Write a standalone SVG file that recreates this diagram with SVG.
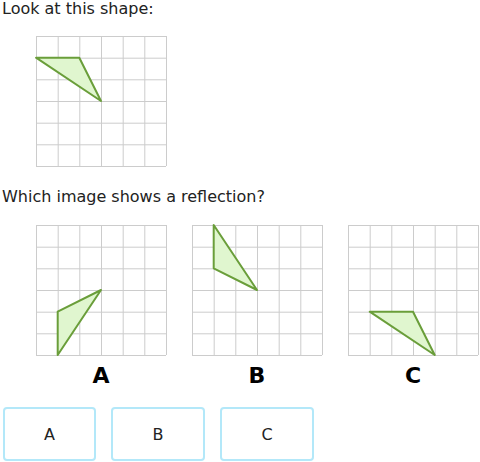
<svg xmlns="http://www.w3.org/2000/svg" width="480" height="462" viewBox="0 0 480 462">
<defs>
<style>
.t{font-family:"DejaVu Sans",Verdana,sans-serif;font-size:16px;fill:#222}
.g{stroke:#cccccc;stroke-width:1;fill:none}
.tri{fill:#e0f6cf;stroke:#6a9e3a;stroke-width:2;stroke-linejoin:round}
.lbl{font-family:"DejaVu Sans",Verdana,sans-serif;font-size:22px;font-weight:bold;fill:#000;text-anchor:middle}
.btn{fill:#fff;stroke:#b3e8f9;stroke-width:2}
.bt{font-family:"DejaVu Sans",Verdana,sans-serif;font-size:16px;fill:#222;text-anchor:middle}
</style>
<g id="grid">
<path class="g" d="M0.5,0V130M22.2,0V130M43.8,0V130M65.5,0V130M87.2,0V130M108.8,0V130M130.5,0V130M0,0.5H130M0,22.2H130M0,43.8H130M0,65.5H130M0,87.2H130M0,108.8H130M0,130.5H130"/>
</g>
</defs>
<rect width="480" height="462" fill="#fff"/>
<text class="t" x="2" y="14">Look at this shape:</text>
<g id="original">
<use href="#grid" x="36" y="36"/>
<polygon class="tri" points="36,57.7 79.3,57.7 101,101"/>
</g>
<text class="t" x="2" y="202">Which image shows a reflection?</text>
<g id="optionA">
<use href="#grid" x="36" y="225"/>
<polygon class="tri" points="57.7,311.7 101,290 57.7,355"/>
<text class="lbl" x="101" y="383">A</text>
</g>
<g id="optionB">
<use href="#grid" x="192" y="225"/>
<polygon class="tri" points="213.7,225 213.7,268.3 257,290"/>
<text class="lbl" x="257" y="383">B</text>
</g>
<g id="optionC">
<use href="#grid" x="348" y="225"/>
<polygon class="tri" points="369.7,311.7 413,311.7 434.7,355"/>
<text class="lbl" x="413" y="383">C</text>
</g>
<g id="buttonA">
<rect class="btn" x="4" y="408" width="91" height="52" rx="3"/>
<text class="bt" x="49.5" y="440">A</text>
</g>
<g id="buttonB">
<rect class="btn" x="112" y="408" width="92" height="52" rx="3"/>
<text class="bt" x="158" y="440">B</text>
</g>
<g id="buttonC">
<rect class="btn" x="221" y="408" width="92" height="52" rx="3"/>
<text class="bt" x="267" y="440">C</text>
</g>
</svg>
